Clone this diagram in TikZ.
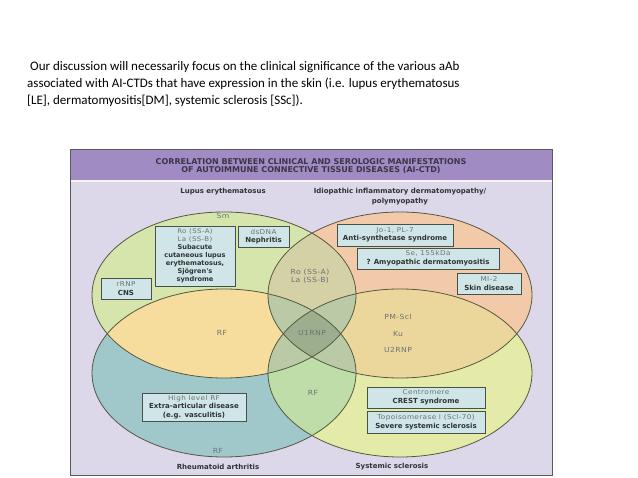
\documentclass[tikz,border=0pt]{standalone}
\usepackage{fontspec}
\setmainfont{Carlito}
\newfontfamily\diag{DejaVu Sans}
\newfontfamily\diagl[FakeStretch=1.1, LetterSpace=6]{DejaVu Sans}
\definecolor{band}{HTML}{A08BC3}
\definecolor{bgl}{HTML}{DDD7EA}
\definecolor{cLE}{HTML}{D6E5AC}
\definecolor{cDM}{HTML}{F3CAA9}
\definecolor{cRA}{HTML}{A0C7C9}
\definecolor{cSS}{HTML}{E4EBA8}
\definecolor{cLERA}{HTML}{F6DC9D}
\definecolor{cDMSS}{HTML}{EBD79C}
\definecolor{cLEDM}{HTML}{D5D1A6}
\definecolor{cRASS}{HTML}{BEDDA8}
\definecolor{ctri}{HTML}{BAC9A6}
\definecolor{cquad}{HTML}{9DAE8E}
\definecolor{edge}{HTML}{55583F}
\definecolor{boxf}{HTML}{CFE5E8}
\definecolor{boxd}{HTML}{44524A}
\definecolor{txtl}{HTML}{6B7372}
\definecolor{txtd}{HTML}{2F3333}
\definecolor{ttl}{HTML}{3A3548}
\newcommand\dk[1]{{\diag\bfseries\fontsize{7}{8.5}\selectfont\color{txtd}#1}}
\newcommand\dks[1]{{\diag\bfseries\fontsize{6.6}{8}\selectfont\color{txtd}#1}}
\tikzset{
  captxt/.style={anchor=base west, inner sep=0pt, font=\fontsize{13}{15}\selectfont, text=black},
  ttlfont/.style={inner sep=0pt, font=\diag\bfseries\fontsize{8}{8}\selectfont, text=ttl, align=center},
  hdr/.style={inner sep=0pt, font=\diag\bfseries\fontsize{7}{9.5}\selectfont, text=txtd, align=center},
  lbl/.style={inner sep=0pt, font=\diagl\fontsize{7}{8.5}\selectfont, text=txtl, align=center},
  abox/.style={draw=boxd, line width=0.8pt, fill=boxf, inner sep=0pt, align=center,
     font=\diagl\fontsize{6.6}{8.5}\selectfont, text=txtl},
  sbox/.style={abox, font=\diagl\fontsize{6.4}{8}\selectfont},
  outline/.style={draw=edge, line width=0.8pt}
}
\begin{document}
\begin{tikzpicture}[x=1pt,y=-1pt]
\useasboundingbox (0,0) rectangle (638,478);
\fill[white] (0,0) rectangle (638,478);
% caption
\node[captxt] (c1) at (30,71) {Our discussion will necessarily focus on the clinical significance of the various aAb};
\node[captxt] (c2) at (27,88) {associated with AI-CTDs that have expression in the skin (i.e. lupus erythematosus};
\node[captxt] (c3) at (27,105) {[LE], dermatomyositis[DM], systemic sclerosis [SSc]).};
% frame
\fill[bgl] (70,150) rectangle (552,476);
\fill[band] (70,150) rectangle (552,180);
\fill[white!70!bgl] (70,180) rectangle (552,182);
% base ellipses
\fill[cLE] (224,295) ellipse [x radius=132pt, y radius=83pt];
\fill[cDM] (400,295) ellipse [x radius=132pt, y radius=83pt];
\fill[cRA] (224,373) ellipse [x radius=132pt, y radius=84pt];
\fill[cSS] (400,373) ellipse [x radius=132pt, y radius=84pt];
% pairwise
\begin{scope}
\clip (224,295) ellipse [x radius=132pt, y radius=83pt];
\fill[cLERA] (224,373) ellipse [x radius=132pt, y radius=84pt];
\end{scope}
\begin{scope}
\clip (400,295) ellipse [x radius=132pt, y radius=83pt];
\fill[cDMSS] (400,373) ellipse [x radius=132pt, y radius=84pt];
\end{scope}
\begin{scope}
\clip (224,295) ellipse [x radius=132pt, y radius=83pt];
\fill[cLEDM] (400,295) ellipse [x radius=132pt, y radius=83pt];
\end{scope}
\begin{scope}
\clip (224,373) ellipse [x radius=132pt, y radius=84pt];
\fill[cRASS] (400,373) ellipse [x radius=132pt, y radius=84pt];
\end{scope}
% triples
\begin{scope}
\clip (224,295) ellipse [x radius=132pt, y radius=83pt];
\clip (400,295) ellipse [x radius=132pt, y radius=83pt];
\fill[ctri] (224,373) ellipse [x radius=132pt, y radius=84pt];
\fill[ctri] (400,373) ellipse [x radius=132pt, y radius=84pt];
\end{scope}
\begin{scope}
\clip (224,373) ellipse [x radius=132pt, y radius=84pt];
\clip (400,373) ellipse [x radius=132pt, y radius=84pt];
\fill[ctri] (224,295) ellipse [x radius=132pt, y radius=83pt];
\fill[ctri] (400,295) ellipse [x radius=132pt, y radius=83pt];
\end{scope}
% quadruple
\begin{scope}
\clip (224,295) ellipse [x radius=132pt, y radius=83pt];
\clip (400,295) ellipse [x radius=132pt, y radius=83pt];
\clip (224,373) ellipse [x radius=132pt, y radius=84pt];
\fill[cquad] (400,373) ellipse [x radius=132pt, y radius=84pt];
\end{scope}
% outlines
\draw[outline] (224,295) ellipse [x radius=132pt, y radius=83pt];
\draw[outline] (400,295) ellipse [x radius=132pt, y radius=83pt];
\draw[outline] (224,373) ellipse [x radius=132pt, y radius=84pt];
\draw[outline] (400,373) ellipse [x radius=132pt, y radius=84pt];
\draw[draw=black!65, line width=1pt] (70,150) rectangle (552,476);
% title and headers
\node[ttlfont] (title) at (311,166.5) {CORRELATION BETWEEN CLINICAL AND SEROLOGIC MANIFESTATIONS\\OF AUTOIMMUNE CONNECTIVE TISSUE DISEASES (AI-CTD)};
\node[hdr] (hLE) at (223,192) {Lupus erythematosus};
\node[hdr] (hDM) at (400,196.5) {Idiopathic inflammatory dermatomyopathy/\\polymyopathy};
\node[hdr] (hRA) at (218,467) {Rheumatoid arthritis};
\node[hdr] (hSS) at (392,467) {Systemic sclerosis};
% labels
\node[lbl] (sm) at (223,216) {Sm};
\node[lbl] (rola) at (310,276.5) {Ro (SS-A)\\La (SS-B)};
\node[lbl] (rf1) at (222,333) {RF};
\node[lbl] (u1) at (312,333) {U1RNP};
\node[lbl] (pm) at (398,317) {PM-Scl};
\node[lbl] (ku) at (398,334) {Ku};
\node[lbl] (u2) at (398,350) {U2RNP};
\node[lbl] (rf2) at (313,393) {RF};
\node[lbl] (rf3) at (218,451) {RF};
% boxes
\node[sbox, minimum width=80pt, minimum height=60pt] (b1) at (195,256) {Ro (SS-A)\\La (SS-B)\\\dks{Subacute}\\\dks{cutaneous lupus}\\\dks{erythematosus,}\\\dks{Sjögren's}\\\dks{syndrome}};
\node[abox, minimum width=51pt, minimum height=21pt] (b2) at (263.5,236.5) {dsDNA\\\dk{Nephritis}};
\node[abox, minimum width=50pt, minimum height=21pt] (b3) at (126,288.5) {rRNP\\\dk{CNS}};
\node[abox, minimum width=116pt, minimum height=22pt] (b4) at (395,235) {Jo-1, PL-7\\\dk{Anti-synthetase syndrome}};
\node[abox, minimum width=142pt, minimum height=21pt] (b5) at (428,258.5) {Se, 155kDa\\\dk{? Amyopathic dermatomyositis}};
\node[abox, minimum width=64pt, minimum height=21pt] (b6) at (489,283.5) {MI-2\\\dk{Skin disease}};
\node[abox, minimum width=104pt, minimum height=28pt] (b7) at (194,407) {High level RF\\\dk{Extra-articular disease}\\\dk{(e.g. vasculitis)}};
\node[abox, minimum width=118pt, minimum height=21pt] (b8) at (426,397.5) {Centromere\\\dk{CREST syndrome}};
\node[abox, minimum width=118pt, minimum height=22pt] (b9) at (426,422) {Topoisomerase I (Scl-70)\\\dk{Severe systemic sclerosis}};
\end{tikzpicture}
\end{document}
